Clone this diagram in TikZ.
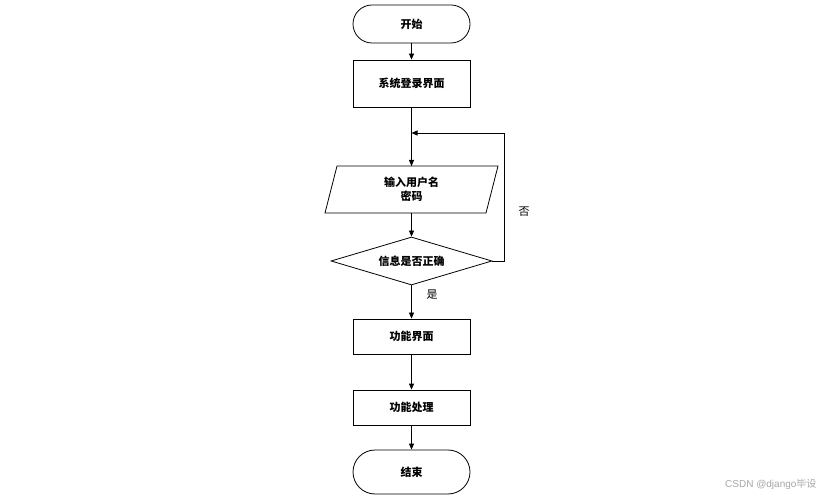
\documentclass[tikz,border=0pt]{standalone}
\usepackage{fontspec}
\setmainfont{Noto Sans CJK SC}
\newfontfamily\wm{Liberation Sans}
\usetikzlibrary{shapes.geometric,arrows.meta}
\begin{document}
\begin{tikzpicture}[x=1pt,y=-1pt,
  every node/.style={font=\bfseries\fontsize{11}{14}\selectfont},
  boxst/.style={draw,line width=0.8pt,minimum width=117pt,minimum height=35pt,inner sep=0pt},
  termst/.style={draw,line width=0.8pt,rounded corners=19pt,minimum width=117pt,minimum height=38pt,inner sep=0pt},
  arr/.style={-{Triangle[length=6pt,width=5pt]},line width=0.8pt}]
\useasboundingbox (0,0) rectangle (835,502);
\node[termst] (start) at (411.5,24) {开始};
\node[boxst,minimum height=47pt] (login) at (411.5,83.5) {系统登录界面};
\draw[line width=0.8pt] (337,166) -- (498,166) -- (486,213) -- (325,213) -- cycle;
\node[align=center] (input) at (411.5,189.5) {输入用户名\\密码};
\coordinate (intop) at (411.5,166);
\coordinate (inbot) at (411.5,213);
\node[draw,diamond,line width=0.8pt,minimum width=161pt,minimum height=48pt,aspect=3.3,inner sep=0pt] (check) at (411.5,261) {信息是否正确};
\node[boxst] (func) at (411.5,336.5) {功能界面};
\node[boxst] (proc) at (411.5,407.5) {功能处理};
\node[termst,minimum height=44pt,rounded corners=22pt] (end) at (411.5,472) {结束};
\coordinate (loopin) at (411.5,133);
\coordinate (c1) at (504,261);
\coordinate (c2) at (504,133);
\draw[arr] (start) -- (login);
\draw[line width=0.8pt] (login) -- (intop);
\draw[arr] (loopin) -- (intop);
\draw[arr] (inbot) -- (check.north);
\draw[arr] (check.south) -- (func);
\draw[arr] (func) -- (proc);
\draw[arr] (proc) -- (end);
\draw[arr] (check.east) -- (c1) -- (c2) -- (loopin);
\node[font=\fontsize{11}{14}\selectfont] (no) at (524,212) {否};
\node[font=\fontsize{11}{14}\selectfont] (yes) at (432,295) {是};
\node[font=\fontsize{10}{12}\selectfont,text=gray!70,anchor=east] (wmk) at (820,484) {{\wm CSDN @django}毕设};
\end{tikzpicture}
\end{document}
